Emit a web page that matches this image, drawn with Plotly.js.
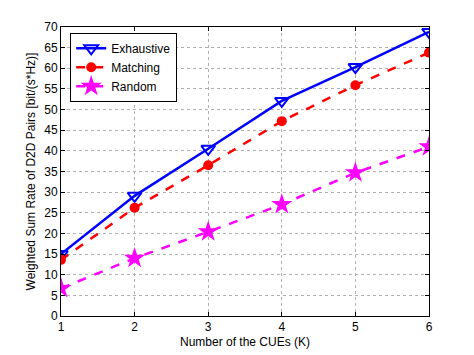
<!DOCTYPE html>
<html><head><meta charset="utf-8">
<script src="https://cdn.plot.ly/plotly-3.0.1.min.js"></script>
<style>html,body{margin:0;padding:0;background:#fff}#c{width:474px;height:355px}</style>
</head><body><div id="c"></div>
<script>
const K = [1, 2, 3, 4, 5, 6];
const exhaustive = [15.0, 29.1, 40.5, 52.1, 60.3, 68.8];
const matching = [13.6, 26.2, 36.5, 47.2, 55.9, 63.8];
const random = [6.7, 14.0, 20.4, 27.0, 34.7, 41.0];
const xTicks = [1, 2, 3, 4, 5, 6];
const yTicks = [0, 5, 10, 15, 20, 25, 30, 35, 40, 45, 50, 55, 60, 65, 70];

const traces = [
  {x: K, y: exhaustive, name: 'Exhaustive', mode: 'lines+markers',
   line: {color: '#0000ff', width: 2.5},
   marker: {symbol: 'triangle-down-open', size: 12, color: '#0000ff', line: {width: 2, color: '#0000ff'}}},
  {x: K, y: matching, name: 'Matching', mode: 'lines+markers',
   line: {color: '#ff0000', width: 2.5, dash: 'dash'},
   marker: {symbol: 'circle', size: 10, color: '#ff0000'}},
  {x: K, y: random, name: 'Random', mode: 'lines+markers',
   line: {color: '#ff00ff', width: 2.5, dash: 'dash'},
   marker: {symbol: 'star', size: 16, color: '#ff00ff', line: {width: 0}}}
];

const axisCommon = {
  showline: true, linecolor: '#000', linewidth: 1, mirror: 'ticks',
  ticks: 'inside', ticklen: 4, tickcolor: '#000',
  showgrid: true, gridcolor: '#b0b0b0', griddash: 'dot', gridwidth: 1,
  zeroline: false, tickfont: {family: 'Liberation Sans, Arial, sans-serif', size: 12, color: '#000'}
};

const layout = {
  width: 474, height: 355,
  margin: {l: 61, r: 45, t: 27, b: 39},
  paper_bgcolor: '#fff', plot_bgcolor: '#fff',
  font: {family: 'Liberation Sans, Arial, sans-serif', size: 12, color: '#000'},
  showlegend: true,
  legend: {x: 0.025, y: 0.98, xanchor: 'left', yanchor: 'top',
           bordercolor: '#000', borderwidth: 1, bgcolor: '#fff',
           font: {size: 12}, tracegroupgap: 0, itemwidth: 30},
  xaxis: Object.assign({}, axisCommon, {
    range: [1, 6], tickvals: xTicks, ticktext: xTicks.map(String),
    title: {text: 'Number of the CUEs (K)', font: {size: 12}, standoff: 4}
  }),
  yaxis: Object.assign({}, axisCommon, {
    range: [0, 70], tickvals: yTicks, ticktext: yTicks.map(String),
    title: {text: 'Weighted Sum Rate of D2D Pairs [bit/(s*Hz)]', font: {size: 12}, standoff: 6}
  })
};

Plotly.newPlot('c', traces, layout, {displayModeBar: false, staticPlot: true});
</script></body></html>
